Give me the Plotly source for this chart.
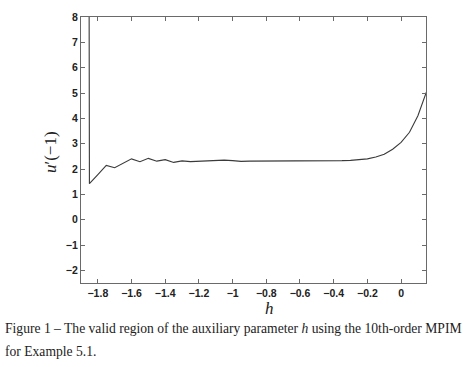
import plotly.graph_objects as go

# h values (auxiliary parameter)
h_values = [-1.9, -1.85, -1.8, -1.75, -1.7, -1.65, -1.6, -1.55, -1.5, -1.45, -1.4,
            -1.35, -1.3, -1.25, -1.2, -1.15, -1.1, -1.05, -1.0, -0.95, -0.9,
            -0.85, -0.8, -0.75, -0.7, -0.65, -0.6, -0.55, -0.5, -0.45, -0.4,
            -0.35, -0.3, -0.25, -0.2, -0.15, -0.1, -0.05, 0.0, 0.05, 0.1, 0.15]
# u'(-1) values
u_values = [200.0, 1.42, 1.78, 2.14, 2.05, 2.22, 2.40, 2.29, 2.42, 2.31, 2.37,
            2.26, 2.32, 2.29, 2.31, 2.31, 2.32, 2.35, 2.33, 2.30, 2.31,
            2.31, 2.32, 2.32, 2.32, 2.33, 2.33, 2.32, 2.32, 2.32, 2.33,
            2.33, 2.34, 2.36, 2.40, 2.47, 2.58, 2.78, 3.05, 3.45, 4.10, 5.03]

x_tickvals = [-1.8, -1.6, -1.4, -1.2, -1.0, -0.8, -0.6, -0.4, -0.2, 0.0]
x_ticktext = ["\u22121.8", "\u22121.6", "\u22121.4", "\u22121.2", "\u22121",
              "\u22120.8", "\u22120.6", "\u22120.4", "\u22120.2", "0"]
y_tickvals = [-2, -1, 0, 1, 2, 3, 4, 5, 6, 7, 8]
y_ticktext = ["\u22122", "\u22121", "0", "1", "2", "3", "4", "5", "6", "7", "8"]

caption_1 = "Figure 1 \u2013 The valid region of the auxiliary parameter <i>h</i> using the 10th-order MPIM"
caption_2 = "for Example 5.1."

fig = go.Figure()
fig.add_trace(go.Scatter(x=h_values, y=u_values, mode="lines",
                         line=dict(color="#3a3a3a", width=1.1),
                         showlegend=False, hoverinfo="skip"))

axis_common = dict(showline=True, linecolor="#6a6a6a", linewidth=1.2, mirror="ticks",
                   ticks="inside", ticklen=4, tickcolor="#6a6a6a", tickwidth=1,
                   showgrid=False, zeroline=False,
                   tickfont=dict(family="Liberation Sans, Arial, sans-serif", size=10.5,
                                 color="#222222", weight="bold"))

fig.update_xaxes(range=[-1.9, 0.148], tickvals=x_tickvals, ticktext=x_ticktext, **axis_common)
fig.update_yaxes(range=[-2.5, 8.0], tickvals=y_tickvals, ticktext=y_ticktext, **axis_common)

serif = "Liberation Serif, Times New Roman, serif"
fig.add_annotation(text="<i>h</i>", xref="paper", yref="paper", x=0.547, y=-0.095,
                   showarrow=False, xanchor="center", yanchor="middle",
                   font=dict(family=serif, size=17, color="#222222"))
fig.add_annotation(text="<i>u</i>\u2032(\u22121)", xref="paper", yref="paper", x=-0.09, y=0.492,
                   showarrow=False, xanchor="center", yanchor="middle", textangle=-90,
                   font=dict(family=serif, size=17, color="#222222"))
fig.add_annotation(text=caption_1, xref="paper", yref="paper", x=-0.226, y=-0.1725,
                   showarrow=False, xanchor="left", yanchor="middle",
                   font=dict(family=serif, size=13.6, color="#222222"))
fig.add_annotation(text=caption_2, xref="paper", yref="paper", x=-0.226, y=-0.257,
                   showarrow=False, xanchor="left", yanchor="middle",
                   font=dict(family=serif, size=13.6, color="#222222"))

fig.update_layout(width=474, height=367, plot_bgcolor="white", paper_bgcolor="white",
                  margin=dict(l=81, r=47.5, t=10.5, b=84))

# remove the default page margin so the figure sits at the window's corner
fig.write_html("out.html", config={"displayModeBar": False},
               post_script="document.body.style.margin='0';document.body.style.overflow='hidden';")
